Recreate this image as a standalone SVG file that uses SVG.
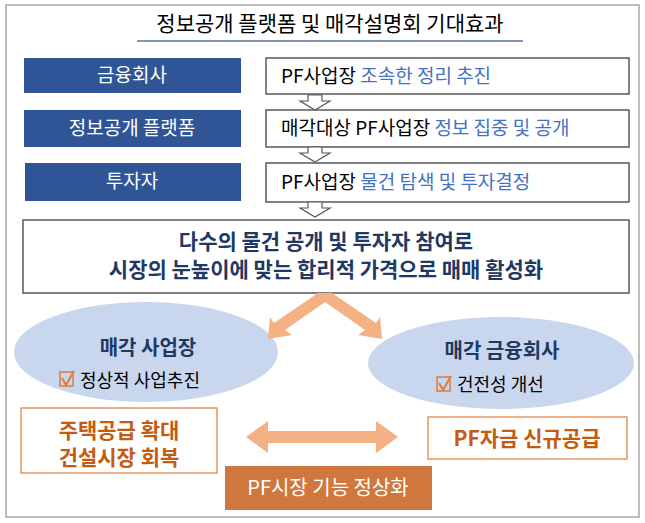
<svg xmlns="http://www.w3.org/2000/svg" width="645" height="523" viewBox="0 0 645 523">
<style>
text{font-family:"Noto Sans CJK KR","Noto Sans",sans-serif}
.blue{fill:#2f5597}
.wb{fill:#fff;stroke:#595959;stroke-width:1.5}
.lbl{fill:#fff;font-size:19px;text-anchor:middle}
.bt{fill:#000;font-size:19px}
.hl{fill:#4472c4}
.nav{fill:#1f3864;font-size:21px;font-weight:bold;text-anchor:middle}
.ell{fill:#c9d7ee}
.ob{fill:#fff;stroke:#e07b39;stroke-width:1.2}
.ot{fill:#c55a11;font-size:21px;font-weight:bold;text-anchor:middle}
.ha{fill:#fff;stroke:#595959;stroke-width:1.2}
.oa{fill:#f4b183}
</style>
<rect x="6" y="5" width="633" height="512" fill="#fff" stroke="#a6a6a6" stroke-width="1.5"/>
<g id="title"><text x="330" y="31" font-size="21" text-anchor="middle" fill="#000">정보공개 플랫폼 및 매각설명회 기대효과</text>
<line x1="137" y1="41" x2="523" y2="41" stroke="#8497b0" stroke-width="2"/></g>
<g id="n1"><rect class="blue" x="24" y="58" width="217" height="35"/><text class="lbl" x="132" y="82">금융회사</text></g>
<g id="n2"><rect class="blue" x="24" y="110" width="217" height="37"/><text class="lbl" x="132" y="135">정보공개 플랫폼</text></g>
<g id="n3"><rect class="blue" x="25" y="163" width="216" height="38"/><text class="lbl" x="132" y="188">투자자</text></g>
<g id="b1"><rect class="wb" x="266" y="58" width="363" height="36"/><text class="bt" x="281" y="83">PF사업장 <tspan class="hl">조속한 정리 추진</tspan></text></g>
<g id="b2"><rect class="wb" x="266" y="110" width="363" height="37"/><text class="bt" x="281" y="135">매각대상 PF사업장 <tspan class="hl">정보 집중 및 공개</tspan></text></g>
<g id="b3"><rect class="wb" x="266" y="163" width="363" height="39"/><text class="bt" x="281" y="189">PF사업장 <tspan class="hl">물건 탐색 및 투자결정</tspan></text></g>
<g id="b4"><rect class="wb" x="23" y="220" width="606" height="73"/><text class="nav" x="326" y="249">다수의 물건 공개 및 투자자 참여로</text><text class="nav" x="326" y="277">시장의 눈높이에 맞는 합리적 가격으로 매매 활성화</text></g>
<g id="e1"><ellipse class="ell" cx="146" cy="352" rx="132" ry="50"/><text class="nav" x="148" y="355" style="font-size:20px">매각 사업장</text>
<rect x="60" y="372" width="13" height="14" fill="none" stroke="#e07b39" stroke-width="1.5"/><path d="M62 378 l4 7 l8 -14" fill="none" stroke="#e07b39" stroke-width="2"/><text x="80" y="387" font-size="18" fill="#000">정상적 사업추진</text></g>
<g id="e2"><ellipse class="ell" cx="501" cy="363" rx="133" ry="46"/><text class="nav" x="502" y="358" style="font-size:20px">매각 금융회사</text>
<rect x="437" y="377" width="13" height="14" fill="none" stroke="#e07b39" stroke-width="1.5"/><path d="M439 383 l4 7 l8 -14" fill="none" stroke="#e07b39" stroke-width="2"/><text x="457" y="391" font-size="18" fill="#000">건전성 개선</text></g>
<g id="o1"><rect class="ob" x="21" y="408" width="196" height="65"/><text class="ot" x="119" y="438">주택공급 확대</text><text class="ot" x="119" y="465">건설시장 회복</text></g>
<g id="o2"><rect class="ob" x="428" y="417" width="199" height="42"/><text class="ot" x="527" y="446">PF자금 신규공급</text></g>
<g id="o3"><rect x="225" y="466" width="207" height="44" fill="#d0773d"/><text x="328" y="495" font-size="20" fill="#fff" text-anchor="middle">PF시장 기능 정상화</text></g>
<g id="connectors">
<path class="ha" d="M308 95 h14 v6 h8 l-15 9 l-15 -9 h8 z"/>
<path class="ha" d="M308 147 h14 v6 h8 l-15 9 l-15 -9 h8 z"/>
<path class="ha" d="M308 202 h14 v6 h8 l-15 9 l-15 -9 h8 z"/>
<path class="oa" d="M318 293 h14 l44 30 l4 -6 l2 22 l-24 -4 l7 -5 l-40 -28 l-40 28 l7 5 l-24 4 l2 -22 l4 6 z"/>
<path class="oa" d="M246 437 l22 -16 v10 h108 v-10 l22 16 l-22 16 v-10 h-108 v10 z"/>
</g>
</svg>
